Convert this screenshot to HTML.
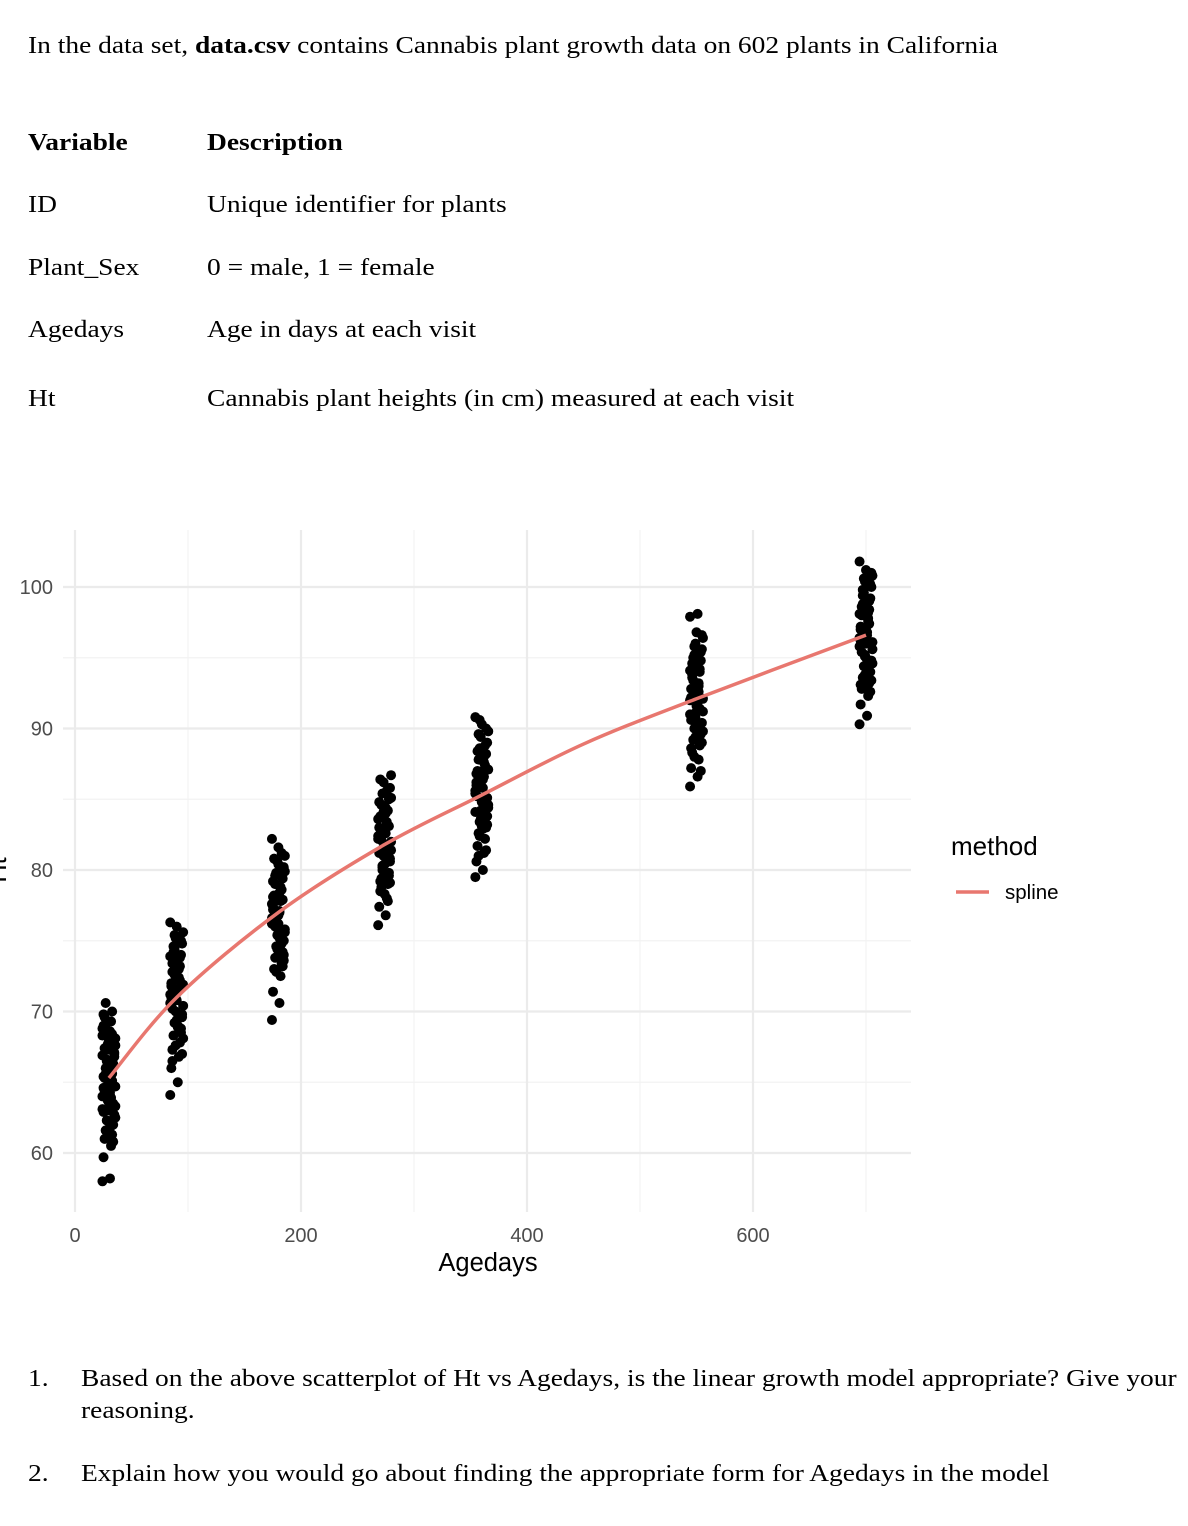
<!DOCTYPE html>
<html><head><meta charset="utf-8">
<style>
body{margin:0;width:1188px;height:1526px;background:#fff;font-family:"Liberation Serif",serif;color:#000;position:relative;overflow:hidden}
.t{position:absolute;font-size:24px;white-space:nowrap;transform:scaleX(1.144);transform-origin:0 0;line-height:32px}
b{font-weight:bold}
svg{position:absolute;left:0;top:0}
svg text{font-family:"Liberation Sans",sans-serif}
</style></head><body>
<div class="t" style="left:28px;top:30px">In the data set, <b>data.csv</b> contains Cannabis plant growth data on 602 plants in California</div>
<div class="t" style="left:28px;top:127px"><b>Variable</b></div>
<div class="t" style="left:207px;top:127px"><b>Description</b></div>
<div class="t" style="left:28px;top:189px">ID</div>
<div class="t" style="left:207px;top:189px">Unique identifier for plants</div>
<div class="t" style="left:28px;top:252px">Plant_Sex</div>
<div class="t" style="left:207px;top:252px">0 = male, 1 = female</div>
<div class="t" style="left:28px;top:314px">Agedays</div>
<div class="t" style="left:207px;top:314px">Age in days at each visit</div>
<div class="t" style="left:28px;top:383px">Ht</div>
<div class="t" style="left:207px;top:383px">Cannabis plant heights (in cm) measured at each visit</div>

<svg id="chart" width="1188" height="1526"></svg>

<div class="t" style="left:28px;top:1363px">1.</div>
<div class="t" style="left:81px;top:1363px">Based on the above scatterplot of Ht vs Agedays, is the linear growth model appropriate? Give your<br>reasoning.</div>
<div class="t" style="left:28px;top:1458px">2.</div>
<div class="t" style="left:81px;top:1458px">Explain how you would go about finding the appropriate form for Agedays in the model</div>

<script>
const ages=[30,90,180,274,360,550,700];
const heights=[
[58,58.2,59.7,60.5,61,61.3,61.6,62,62.3,62.7,63,63.3,63.6,64,64.3,64.6,65,65.3,65.6,66,66.3,66.6,67,67.3,67.6,68,68.3,68.6,69,69.3,69.6,70,70.6,63.5,65.8,66.8,64.8,62.5,67.8,68.8,61.8,62.9,63.9,64.4,65.1,65.6,66.1,66.5,67.1,67.7,68.1,62.2,63.1,64.1,65.4,66.4,67.4,68.4,69.1,60.8,61.5,62.6,63.7,64.7,65.9,66.9,68.2,69.8],
[64.1,65,66,66.8,67.3,67.8,68.3,68.8,69.2,69.6,70,70.4,70.8,71.2,71.6,72,72.4,72.8,73.2,73.6,74,74.4,74.8,75.2,75.6,76,76.3,69,71,73,70.2,72.2,74.2,68.5,72.6,67,67.6,68.1,69.4,70.6,71.4,71.8,72.2,73.4,73.8,74.6,75,75.4,69.8,70.9,71.9,72.9,73.9,68.9,70.5,71.5,66.5,74.9],
[69.4,70.6,71.4,72.5,73,73.4,73.8,74.2,74.6,75,75.4,75.8,76.2,76.6,77,77.4,77.8,78.2,78.6,79,79.4,79.8,80.2,80.6,81,81.6,82.2,75.2,77.2,78.8,76.4,74.8,79.6,73.2,72.8,73.6,74.4,75.6,76.8,77.6,78.4,79.2,80,80.8,81.2,76,77.9,78,74,75.9,79.9,80.4,76.2,77.1,78.1,73.9],
[76.1,76.8,77.4,78,78.5,79,79.4,79.8,80.2,80.6,81,81.4,81.8,82.2,82.6,83,83.4,83.8,84.2,84.6,85,85.4,85.8,86.2,86.7,80.4,82.4,84.4,81.2,83.2,79.2,77.8,78.8,79.6,80,80.8,81.6,82,82.8,83.6,84,84.8,85.6,86.4,81.1,82.1,83.1,80.3,79.1,84.1,85.1,78.3],
[79.5,80,80.6,81.2,81.7,82.2,82.6,83,83.4,83.8,84.2,84.6,85,85.4,85.8,86.2,86.6,87,87.4,87.8,88.2,88.6,89,89.4,89.8,90.3,90.8,84,86,88,85.2,87.2,81,81.4,82.4,83.2,83.6,84.4,84.8,85.6,86.4,86.8,87.6,88.4,88.8,89.6,90,90.6,85.1,86.1,87.1,83.1,84.1,82.9],
[85.9,86.6,87.2,87.8,88.3,88.8,89.2,89.6,90,90.4,90.8,91.2,91.6,92,92.4,92.8,93.2,93.6,94,94.4,94.8,95.2,95.6,96,96.4,96.8,97.9,98.1,90.6,92.6,94.6,91.4,93.4,87,88,89,89.4,89.8,90.2,91,91.8,92.2,93,93.8,94.2,95,95.4,95.8,96.6,91.1,92.1,93.1,94.1,90.1,88.6],
[90.3,90.9,91.7,92.3,92.8,93.2,93.6,94,94.4,94.8,95.2,95.6,96,96.4,96.8,97.2,97.6,98,98.4,98.8,99.2,99.6,100,100.4,100.8,101.2,101.8,94.2,96.2,98.2,95.4,97.4,99.4,92.6,93,93.4,93.8,94.6,95,95.8,96.6,97,97.8,98.6,99,99.8,100.2,100.6,101,95.1,96.1,97.1,98.1,94.1,93.1]
];
const splineAges=[30,90,180,274,360,450,550,700];
const splineHt=[65.3,71,77,81.8,85.3,88.9,92.1,96.6];
const xTicks=[0,200,400,600];
const yTicks=[60,70,80,90,100];
const xMinor=[100,300,500,700];
const yMinor=[65,75,85,95];

const svg=document.getElementById('chart');
const NS='http://www.w3.org/2000/svg';
const X=v=>75+v*1.13;
const Y=v=>1153-(v-60)*14.15;
const L=63,R=911,T=530,B=1212;
function mk(tag,attrs,parent){const e=document.createElementNS(NS,tag);for(const k in attrs)e.setAttribute(k,attrs[k]);(parent||svg).appendChild(e);return e;}
const grid=mk('g',{});


xMinor.forEach(v=>{const l=mk('line',{x1:X(v),x2:X(v),y1:T,y2:B,stroke:'#f2f2f2','stroke-width':1.2},grid);});
yMinor.forEach(v=>{const l=mk('line',{x1:L,x2:R,y1:Y(v),y2:Y(v),stroke:'#f2f2f2','stroke-width':1.2},grid);});
xTicks.forEach(v=>{const l=mk('line',{x1:X(v),x2:X(v),y1:T,y2:B,stroke:'#ebebeb','stroke-width':2.2},grid);
const t=mk('text',{x:X(v),y:1242,'text-anchor':'middle','font-size':20,fill:'#4d4d4d'});t.textContent=v;});
yTicks.forEach(v=>{const l=mk('line',{x1:L,x2:R,y1:Y(v),y2:Y(v),stroke:'#ebebeb','stroke-width':2.2},grid);
const t=mk('text',{x:53,y:Y(v)+7,'text-anchor':'end','font-size':20,fill:'#4d4d4d'});t.textContent=v;});
const pts=mk('g',{fill:'#000'});


ages.forEach((a,ci)=>{heights[ci].forEach((h,i)=>{const jit=((i*7)%13-6)*0.95;const c=mk('circle',{cx:X(a+jit),cy:Y(h),r:5},pts);});});
const P=splineAges.map((a,i)=>[X(a),Y(splineHt[i])]);
let d='M'+P[0][0]+','+P[0][1];
for(let i=0;i<P.length-1;i++){const p0=P[Math.max(0,i-1)],p1=P[i],p2=P[i+1],p3=P[Math.min(P.length-1,i+2)];
d+='C'+(p1[0]+(p2[0]-p0[0])/6)+','+(p1[1]+(p2[1]-p0[1])/6)+' '+(p2[0]-(p3[0]-p1[0])/6)+','+(p2[1]-(p3[1]-p1[1])/6)+' '+p2[0]+','+p2[1];}
const p=mk('path',{d:d,fill:'none',stroke:'#e8776f','stroke-width':3.5,'stroke-linejoin':'round'});


const xt=mk('text',{x:488,y:1271,'text-anchor':'middle','font-size':25.5,fill:'#000'});xt.textContent='Agedays';


const yt=mk('text',{x:0,y:0,'text-anchor':'middle','font-size':25.5,fill:'#000',transform:'translate(6,870) rotate(-90)'});yt.textContent='Ht';


const lt=mk('text',{x:951,y:855,'font-size':26,fill:'#000'});lt.textContent='method';


const ll=mk('line',{x1:956,x2:989,y1:892,y2:892,stroke:'#e8776f','stroke-width':3.5});


const lx=mk('text',{x:1005,y:899,'font-size':20.5,fill:'#000'});lx.textContent='spline';


</script>
</body></html>
